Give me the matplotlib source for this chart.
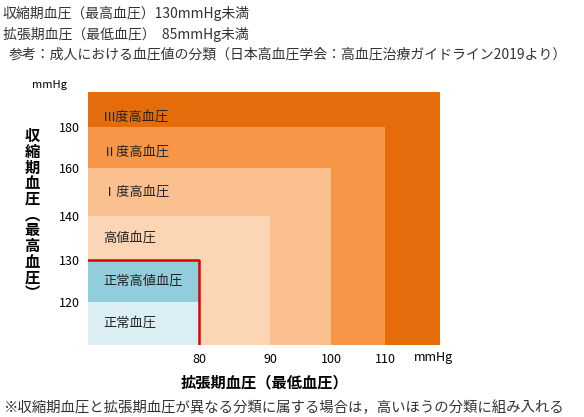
import matplotlib.pyplot as plt
import matplotlib.patches as mpatches
import numpy as np

plt.rcParams['font.family'] = ['Noto Sans CJK JP', 'DejaVu Sans']

# category bands: (label, diastolic upper, systolic upper, colour)
labels = ['Ⅲ度高血圧', 'Ⅱ度高血圧', 'Ⅰ度高血圧', '高値血圧', '正常高値血圧', '正常血圧']
dia_upper = [120, 110, 100, 90, 80, 80]
sys_upper = [190, 180, 160, 140, 130, 120]
colors = ['#E46C0A', '#F79646', '#FAC090', '#FCD5B5', '#92CDDC', '#DAEEF3']
label_y = [183, 168, 150, 135, 125, 115]

x_ticks = [80, 90, 100, 110]
y_ticks = [120, 130, 140, 160, 180]

# nonuniform axis scales (from picture)
xv = [65, 80, 90, 100, 110, 120]
xp = [0, 111, 182, 243, 297, 352]
yv = [110, 120, 130, 140, 160, 180, 190]
yp = [0, 43, 85, 129, 177, 218, 253]

fig = plt.figure(figsize=(5.84, 4.17), dpi=100)
ax = fig.add_axes([0.151, 0.173, 0.603, 0.606])
ax.set_xscale('function', functions=(lambda v: np.interp(v, xv, xp), lambda p: np.interp(p, xp, xv)))
ax.set_yscale('function', functions=(lambda v: np.interp(v, yv, yp), lambda p: np.interp(p, yp, yv)))
ax.set_xlim(65, 120)
ax.set_ylim(110, 190)

for lab, dx, sy, c, ly in zip(labels, dia_upper, sys_upper, colors, label_y):
    ax.add_patch(mpatches.Rectangle((65, 110), dx - 65, sy - 110, color=c, lw=0))
    ax.text(67, ly, lab, fontsize=9.5, va='center', ha='left', color='#222222')

ax.plot([80, 80, 65], [110, 130, 130], color='#E00000', lw=1.8)

for s in ax.spines.values():
    s.set_visible(False)
ax.set_xticks(x_ticks)
ax.set_yticks(y_ticks)
ax.tick_params(length=0, labelsize=9, pad=6)
ax.text(0.925, -0.025, 'mmHg', transform=ax.transAxes, fontsize=9, va='top', ha='left')
ax.text(-0.16, 1.01, 'mmHg', transform=ax.transAxes, fontsize=8, va='bottom', ha='left')

ax.set_xlabel('拡張期血圧（最低血圧）', fontsize=11, fontweight='bold', labelpad=6)
fig.text(0.055, 0.485, '\n'.join('収縮期血圧︵最高血圧︶'), fontsize=11, fontweight='bold',
         ha='center', va='center', linespacing=0.98)

fig.text(0.005, 0.985, '収縮期血圧（最高血圧）130mmHg未満', fontsize=10, va='top', color='#333333')
fig.text(0.005, 0.935, '拡張期血圧（最低血圧）  85mmHg未満', fontsize=10, va='top', color='#333333')
fig.text(0.015, 0.885, '参考：成人における血圧値の分類（日本高血圧学会：高血圧治療ガイドライン2019より）', fontsize=10, va='top', color='#333333')
fig.text(0.005, 0.005, '※収縮期血圧と拡張期血圧が異なる分類に属する場合は，高いほうの分類に組み入れる', fontsize=10.4, va='bottom', color='#333333')

fig.savefig('out.png', dpi=100)
